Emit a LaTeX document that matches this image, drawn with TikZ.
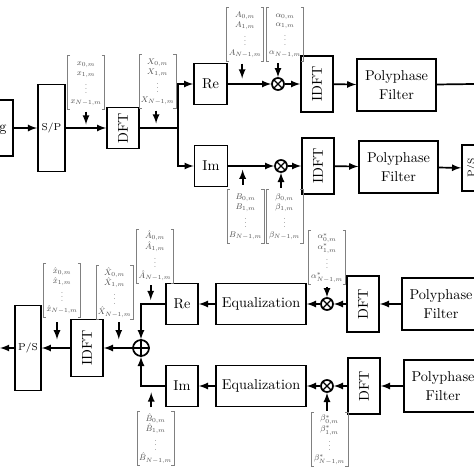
\documentclass[tikz,border=0pt]{standalone}
\usepackage{graphicx}
\usetikzlibrary{arrows,calc}
\colorlet{vcolor}{gray}
\colorlet{vtext}{black!70}
\newcommand{\vcol}[1]{\scalebox{0.72}{\footnotesize\setlength\arraycolsep{0pt}\renewcommand\arraystretch{1.0}$\begin{array}{c} #1_{0,m}\\ #1_{1,m}\\ \vdots\\ #1_{N-1,m}\end{array}$}}

\begin{document}
\begin{tikzpicture}[x=0.7pt,y=-0.7pt,>=latex,very thick]
\useasboundingbox (0,0) rectangle (474,474);
\clip (0,0) rectangle (474,474);

% transmitter
\begin{scope}[every node/.style={draw,very thick,inner sep=1pt,fill=none}]
\node[minimum width=47.6pt,minimum height=39pt] (map) at (-21,128) {Mapping};
\node[minimum width=19pt,minimum height=61pt,font=\scriptsize] (sp) at (51.5,128) {S/P};
\node[rotate=90,minimum width=28.7pt,minimum height=22.4pt] (dft1) at (123,128) {DFT};
\node[minimum width=23pt,minimum height=28.7pt] (re1) at (210.5,84) {Re};
\node[minimum width=23pt,minimum height=28.7pt] (im1) at (211,166) {Im};
\node[rotate=90,minimum width=39pt,minimum height=22.4pt] (idft1) at (317,84) {IDFT};
\node[rotate=90,minimum width=39pt,minimum height=22.4pt] (idft2) at (318,166) {IDFT};
\node[minimum width=55pt,minimum height=36pt,align=center] (poly1) at (396.5,85) {Polyphase\\[1pt]Filter};
\node[minimum width=55pt,minimum height=36pt,align=center] (poly2) at (398.5,167) {Polyphase\\[1pt]Filter};
\node[rotate=90,minimum width=32pt,minimum height=14pt,font=\scriptsize] (rbox) at (472,168) {P/S};
\end{scope}

% receiver
\begin{scope}[every node/.style={draw,very thick,inner sep=1pt,fill=none}]
\node[minimum width=55pt,minimum height=36pt,align=center] (poly3) at (441,304) {Polyphase\\[1pt]Filter};
\node[minimum width=55pt,minimum height=36pt,align=center] (poly4) at (443,386) {Polyphase\\[1pt]Filter};
\node[rotate=90,minimum width=39pt,minimum height=22.4pt] (dft3) at (363,304) {DFT};
\node[rotate=90,minimum width=39pt,minimum height=22.4pt] (dft4) at (364,386) {DFT};
\node[minimum width=63pt,minimum height=28.7pt] (eq1) at (261,304) {Equalization};
\node[minimum width=63pt,minimum height=28.7pt] (eq2) at (261,386) {Equalization};
\node[minimum width=22.4pt,minimum height=28.7pt] (re2) at (182,304) {Re};
\node[minimum width=22.4pt,minimum height=28.7pt] (im2) at (182,386) {Im};
\node[rotate=90,minimum width=40pt,minimum height=22.4pt] (idft3) at (87,348) {IDFT};
\node[minimum width=18pt,minimum height=59.5pt,font=\scriptsize] (ps) at (28,348) {P/S};
\end{scope}

\begin{scope}[every node/.style={draw,very thick,circle,inner sep=0pt,minimum size=8.4pt}]
\node (ot1) at (278,84) {};
\node (ot2) at (281,166) {};
\node (ot3) at (327,304) {};
\node (ot4) at (327,386) {};
\end{scope}
\node[draw,very thick,circle,inner sep=0pt,minimum size=11.2pt] (op) at (141,348) {};
\foreach \o in {ot1,ot2,ot3,ot4}
  \draw[thick] (\o.north west) -- (\o.south east) (\o.north east) -- (\o.south west);
\draw[thick] (op.north) -- (op.south) (op.west) -- (op.east);

% vectors
\begin{scope}[every node/.style={minimum width=25pt,minimum height=36.4pt,inner sep=0pt,text=vtext}]
\node (vx) at (86,82.5) {\vcol{x}};
\node (vX) at (157.5,81.5) {\vcol{X}};
\node (vA) at (245,34.5) {\vcol{A}};
\node (valpha) at (285,34) {\vcol{\alpha}};
\node (vB) at (245.5,216.5) {\vcol{B}};
\node (vbeta) at (284.5,216.5) {\vcol{\beta}};
\node (vxh) at (62,290.5) {\vcol{\hat{x}}};
\node (vXh) at (114.5,292.5) {\vcol{\hat{X}}};
\node (vAh) at (155,256) {\vcol{\hat{A}}};
\node (vBh) at (155.5,438.5) {\vcol{\hat{B}}};
\node (valphas) at (327,257.5) {\vcol{\alpha^*}};
\node (vbetas) at (329.5,439.5) {\vcol{\beta^*}};
\end{scope}
\foreach \v in {vx,vX,vA,valpha,vB,vbeta,vxh,vXh,vAh,vBh,valphas,vbetas}
  \draw[vcolor,thin] ([xshift=2pt]\v.north west) -- (\v.north west) -- (\v.south west) -- ([xshift=2pt]\v.south west)
    ([xshift=-2pt]\v.north east) -- (\v.north east) -- (\v.south east) -- ([xshift=-2pt]\v.south east);

% signal path, transmitter
\coordinate (br) at (178,128);
\coordinate (out1) at (474,84);
\draw[->] (map) -- (sp);
\draw[->] (sp) -- (dft1);
\draw (dft1) -- (br);
\draw[->] (br) |- (re1);
\draw[->] (br) |- (im1);
\draw[->] (re1) -- (ot1);
\draw[->] (ot1) -- (idft1);
\draw[->] (idft1) -- (poly1);
\draw (poly1) -- (out1);
\draw[->] (im1) -- (ot2);
\draw[->] (ot2) -- (idft2);
\draw[->] (idft2) -- (poly2);
\draw[->] (poly2) -- (rbox);

% signal path, receiver
\coordinate (out2) at (0,348);
\draw[->] (poly3) -- (dft3);
\draw[->] (dft3) -- (ot3);
\draw[->] (ot3) -- (eq1);
\draw[->] (eq1) -- (re2);
\draw[->] (poly4) -- (dft4);
\draw[->] (dft4) -- (ot4);
\draw[->] (ot4) -- (eq2);
\draw[->] (eq2) -- (im2);
\draw[->] (re2) -| (op);
\draw[->] (im2) -| (op);
\draw[->] (op) -- (idft3);
\draw[->] (idft3) -- (ps);
\draw[->] (ps) -- (out2);

% vector inputs
\draw[->] ([yshift=-1.5pt]vx.south) -- ++(0,13);
\draw[->] ([xshift=-1pt,yshift=-1.5pt]vX.south) -- ++(0,13);
\draw[->] ([xshift=-2pt,yshift=-1.5pt]vA.south) -- ++(0,15);
\draw[->,shorten <=1.5pt] (ot1 |- valpha.south) -- (ot1);
\draw[->] ([xshift=-2pt,yshift=3.5pt]vB.north) -- ++(0,-15);
\draw[->,shorten <=1.5pt] (ot2 |- vbeta.north) -- (ot2);
\draw[->] ([xshift=-3.5pt,yshift=-3.5pt]vxh.south) -- ++(0,17);
\draw[->] ([xshift=3pt,yshift=-2pt]vXh.south) -- ++(0,17);
\draw[->] ([xshift=-3pt,yshift=-1.5pt]vAh.south) -- ++(0,15);
\draw[->] ([xshift=-3pt,yshift=3pt]vBh.north) -- ++(0,-15);
\draw[->,shorten <=1.5pt] (ot3 |- valphas.south) -- (ot3);
\draw[->,shorten <=1.5pt] (ot4 |- vbetas.north) -- (ot4);
\end{tikzpicture}
\end{document}
